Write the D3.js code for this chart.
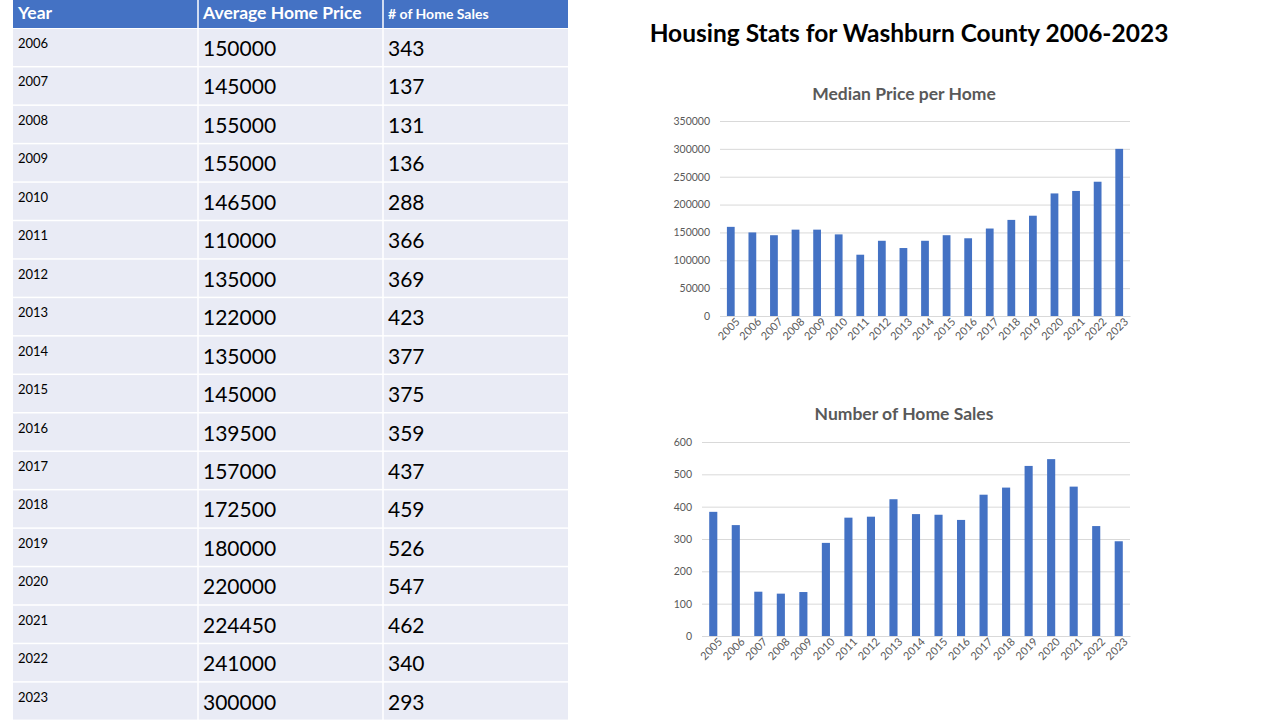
<!DOCTYPE html>
<html>
<head>
<meta charset="utf-8">
<script src="https://cdn.jsdelivr.net/npm/d3@7"></script>
<style>
  body { margin: 0; background: #fff; }
  svg { display: block; font-family: Lato, "Open Sans", sans-serif; }
</style>
</head>
<body>
<div id="box"></div>
<script>
// table data (2006-2023)
var tableYears = [2006, 2007, 2008, 2009, 2010, 2011, 2012, 2013, 2014, 2015, 2016, 2017, 2018, 2019, 2020, 2021, 2022, 2023];
var avgPrice = [150000, 145000, 155000, 155000, 146500, 110000, 135000, 122000, 135000, 145000, 139500, 157000, 172500, 180000, 220000, 224450, 241000, 300000];
var homeSales = [343, 137, 131, 136, 288, 366, 369, 423, 377, 375, 359, 437, 459, 526, 547, 462, 340, 293];
var headers = ["Year", "Average Home Price", "# of Home Sales"];

// chart data (2005-2023)
var chartYears = ["2005", "2006", "2007", "2008", "2009", "2010", "2011", "2012", "2013", "2014", "2015", "2016", "2017", "2018", "2019", "2020", "2021", "2022", "2023"];
var medianPrice = [160000, 150000, 145000, 155000, 155000, 146500, 110000, 135000, 122000, 135000, 145000, 139500, 157000, 172500, 180000, 220000, 224450, 241000, 300000];
var salesCount = [384, 343, 137, 131, 136, 288, 366, 369, 423, 377, 375, 359, 437, 459, 526, 547, 462, 340, 293];
var priceTicks = [0, 50000, 100000, 150000, 200000, 250000, 300000, 350000];
var salesTicks = [0, 100, 200, 300, 400, 500, 600];

const WIDTH = 1280, HEIGHT = 720;
var svg = d3.select("#box").append("svg").attr("width", WIDTH).attr("height", HEIGHT);

// ---- table ----
var colX = [13, 198, 383, 568];
var headH = 28, rowH = 38.45, top0 = 29;
var tbl = svg.append("g").attr("id", "table");

tbl.append("rect").attr("x", colX[0]).attr("y", 0)
  .attr("width", colX[3] - colX[0]).attr("height", headH).attr("fill", "#4472C4");
tbl.selectAll("text.head").data(headers).enter().append("text")
  .attr("class", "head")
  .attr("x", function(d, i) { return colX[i] + 5; })
  .attr("y", 19)
  .attr("fill", "#fff").attr("font-weight", "bold")
  .attr("font-size", function(d, i) { return i == 2 ? 14 : 17.5; })
  .text(function(d) { return d; });

var rows = tbl.selectAll("g.row").data(tableYears).enter().append("g")
  .attr("class", "row")
  .attr("transform", function(d, i) { return "translate(0," + (top0 + i * rowH) + ")"; });
rows.append("rect").attr("x", colX[0]).attr("y", 0)
  .attr("width", colX[3] - colX[0]).attr("height", rowH - 1.5).attr("fill", "#E9EBF5");
rows.append("text").attr("x", colX[0] + 5).attr("y", 19)
  .attr("font-size", 13).attr("fill", "#000").text(function(d) { return d; });
rows.append("text").attr("x", colX[1] + 5).attr("y", 27)
  .attr("font-size", 21).attr("fill", "#000").text(function(d, i) { return avgPrice[i]; });
rows.append("text").attr("x", colX[2] + 5).attr("y", 27)
  .attr("font-size", 21).attr("fill", "#000").text(function(d, i) { return homeSales[i]; });
// column separators
tbl.selectAll("line.sep").data([colX[1], colX[2]]).enter().append("line")
  .attr("x1", function(d) { return d; }).attr("x2", function(d) { return d; })
  .attr("y1", 0).attr("y2", HEIGHT).attr("stroke", "#fff").attr("stroke-width", 1.5);

// ---- title ----
svg.append("text").attr("x", 909).attr("y", 42).attr("text-anchor", "middle")
  .attr("font-size", 24.5).attr("font-weight", "bold").attr("fill", "#000")
  .text("Housing Stats for Washburn County 2006-2023");

// ---- bar charts ----
function barChart(opts) {
  var g = svg.append("g");
  var x = d3.scaleBand().domain(chartYears).range([opts.x0, opts.x1]).paddingInner(0.64).paddingOuter(0.32);
  var y = d3.scaleLinear().domain([0, d3.max(opts.ticks)]).range([opts.y0, opts.y1]);

  g.append("text").attr("x", opts.titleX).attr("y", opts.titleY)
    .attr("text-anchor", "middle").attr("font-size", 17.5).attr("font-weight", "bold")
    .attr("fill", "#595959").text(opts.title);

  var yAxis = g.append("g").attr("transform", "translate(" + opts.x0 + ",0)")
    .call(d3.axisLeft(y).tickValues(opts.ticks).tickSize(-(opts.x1 - opts.x0)).tickPadding(10).tickFormat(d3.format("d")));
  yAxis.select(".domain").remove();
  yAxis.selectAll(".tick line").attr("stroke", "#D9D9D9");
  yAxis.selectAll(".tick text").attr("fill", "#595959").attr("font-size", 10.5).attr("font-family", "Lato, sans-serif");

  g.selectAll("rect.bar").data(opts.values).enter().append("rect")
    .attr("class", "bar")
    .attr("x", function(d, i) { return x(chartYears[i]); })
    .attr("y", function(d) { return y(d); })
    .attr("width", x.bandwidth())
    .attr("height", function(d) { return opts.y0 - y(d); })
    .attr("fill", "#4472C4");

  var xAxis = g.append("g").attr("transform", "translate(0," + opts.y0 + ")")
    .call(d3.axisBottom(x).tickSize(0).tickPadding(6));
  xAxis.select(".domain").attr("stroke", "#D9D9D9");
  xAxis.selectAll(".tick text").attr("fill", "#595959").attr("font-size", 11)
    .attr("font-family", "Lato, sans-serif")
    .attr("text-anchor", "end")
    .attr("transform", "rotate(-45)")
    .attr("dx", "0.2em").attr("dy", "0.5em");
}

barChart({ title: "Median Price per Home", titleX: 904, titleY: 100, values: medianPrice, ticks: priceTicks,
  x0: 720, x1: 1130, y0: 316, y1: 121 });
barChart({ title: "Number of Home Sales", titleX: 904, titleY: 420, values: salesCount, ticks: salesTicks,
  x0: 702, x1: 1130, y0: 636, y1: 442 });
</script>
</body>
</html>
